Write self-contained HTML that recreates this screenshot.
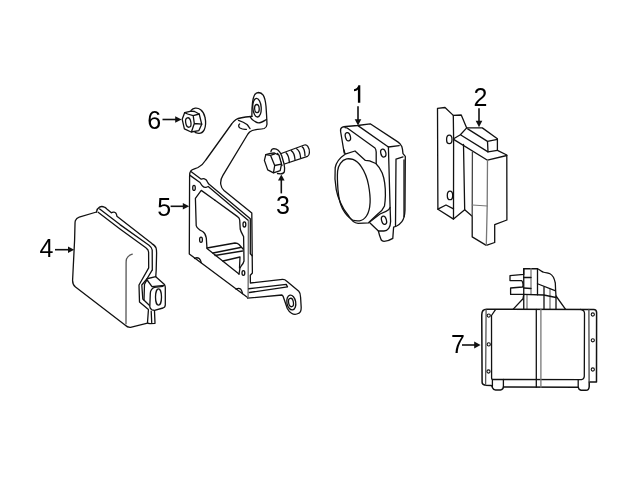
<!DOCTYPE html>
<html><head><meta charset="utf-8">
<style>
html,body{margin:0;padding:0;background:#fff;width:640px;height:480px;overflow:hidden}
svg{display:block;will-change:transform}
text{font-family:"Liberation Sans",sans-serif;font-size:25px;fill:#000}
</style></head><body>
<svg width="640" height="480" viewBox="0 0 640 480">
<g fill="none" stroke="#111" stroke-width="1.3" stroke-linejoin="round" stroke-linecap="round">
<!-- labels arrows -->
<g stroke-width="1.6" stroke-linecap="butt">
<path d="M162.5 119.5H176"/>
<path d="M170.6 206.3H183.5"/>
<path d="M55 249.7H68.5"/>
<path d="M281.3 193.4V180"/>
<path d="M358 106.2V120"/>
<path d="M479 108.3V121.5"/>
<path d="M462 345H475"/>
</g>
<g fill="#111" stroke="none">
<path d="M181.6 119.5L175.2 116.2V122.8Z"/>
<path d="M189.2 206.3L182.8 203V209.6Z"/>
<path d="M74.2 249.7L68 246.4V253Z"/>
<path d="M281.3 174.4L278 180.6H284.6Z"/>
<path d="M358 125.5L354.7 119.2H361.3Z"/>
<path d="M479 127.2L475.7 120.8H482.3Z"/>
<path d="M480.6 345L474.2 341.6V348.4Z"/>
</g>

<!-- part 5 bracket -->
<g id="p5">
<path d="M251.9,116.4 C247,116.8 240,117.2 236,119.5 C234,121 233,122 232,123.5 L205.8,160 C204,163 202,165.5 198,167.5 C195,168.8 192,169.3 190.8,170.8 C189.8,172 189.6,174 189.6,176 L189.3,254 L247.6,297.5"/>
<path d="M251.9,116.4 C251.8,107 252,99.5 254.5,95 C255.8,93 257,92.5 258.5,92.5 C260.5,92.6 262,93.5 263.2,95.2 C264.6,97.5 265.5,101 266,106.3 L266.6,115.5 L267,124.2 C266.8,126.5 265.8,127.8 264.2,128.5 C262,129.2 259.5,129.3 256,129.6 C253,130 251,130.8 249.6,132 L247.9,134 L222.9,175.4 C221,178.5 220.4,182 220.8,184.5 C221.2,187 222,188.8 224,190.5 L251.8,213 L252.2,255.6 L252.4,273 L250.3,275.2 L250.4,283 L282.5,279.4 C284,279.3 285.5,280 286.5,281 L298.8,291.3 C300,292.5 300.6,295 300.6,297.5 L301.2,307.5 C301.2,310 300.5,312.5 298.7,313.3 C296.5,314.5 293.5,314.5 291.5,313.2 C289.5,312 288.3,310.5 287.3,308.5 L283.1,296.3 L281.9,295 L247.6,298.2"/>
<ellipse cx="257" cy="107.7" rx="4.2" ry="9.3" transform="rotate(-4 257 107.7)"/>
<ellipse cx="256.9" cy="108.6" rx="2.3" ry="4.1" transform="rotate(-4 256.9 108.6)"/>
<path d="M250.5,117.4 C251.5,119 252.5,120.3 254.2,121 C255.8,122 257.2,122.9 258.8,122.9 C261,122.9 263,121.5 266.5,119.5"/>
<path d="M238.5,120.4 C242,121.5 245,123 247,124.5 C248.5,126 249,127.5 250,128.5"/>
<path d="M239.6,124 C238.3,125 238.3,126.8 240,128 C242,129.2 244.5,129.5 246.4,129.3"/>
<!-- plate rim lines -->
<path d="M191.25,171.7 L201.25,179.2 C202.5,178.5 203.5,178.5 204.5,178.8 C206,179.3 207,180.5 207.5,182 C208,183.3 208.8,184.3 210,185 L250.3,218.8 L250.3,253.8 L252.2,255.8"/>
<path d="M190,175.4 L200,182.5 C201,184 201.5,185.2 202.5,186 C203.5,187 205,187.5 206,187.3 C207,187.1 207.6,186.8 208.2,186.5 L248.4,220.5"/>
<path d="M248.4,220.5 L248.1,298" stroke="#666"/>
<path d="M215,200.2 L237.5,216.6 C239,217.5 239.6,218.5 239.7,220 L240.2,229 C240.8,232 242.5,234.5 243.6,236.5 L244,261 C243.5,263 242.5,264.5 241.5,265.5 L240,268 L239,274"/>
<path d="M201.25,190.4 L215,200.2 M201.25,190.4 L195.4,198.3 L196.2,225.6 C197,228.5 199.5,230 202.7,231.5 C205,233 206,236 206.3,238 L207,248.5 L239,274"/>
<!-- inner beams -->
<path d="M207,248 L235,243 C236.5,243 238,243.5 239,244.5 L243,249"/>
<path d="M213,253 L240.5,247.5"/>
<path d="M215,255.5 L242.5,251"/>
<path d="M223,261 L240,257 L239.5,268"/>
<!-- corner marks -->
<path d="M194.5,258.5 C196,257.6 198,257.6 199.2,258.6 C200.2,259.5 200.8,260.8 201.2,262.5"/>
<path d="M236,289.1 C237.5,288.3 239.5,288.1 240.6,289 C241.6,290 242.1,291.5 242.5,293.5"/>
<!-- foot inner -->
<path d="M248.75,288.75 L286.25,284.4 L287.5,286.9 L249.4,292.5"/>
<ellipse cx="291.3" cy="302.5" rx="4.4" ry="7.5" transform="rotate(-10 291.3 302.5)"/>
<ellipse cx="291" cy="302.5" rx="2.4" ry="4.3" transform="rotate(-10 291 302.5)"/>
<!-- holes -->
<ellipse cx="194" cy="187.9" rx="1.3" ry="2.5"/>
<ellipse cx="244.4" cy="224.4" rx="1.4" ry="2.6"/>
<ellipse cx="201" cy="239.8" rx="1.4" ry="2.6"/>
<ellipse cx="243.4" cy="273" rx="1.4" ry="2.3"/>
</g>


<!-- part 3 bolt -->
<g id="p3">
<path d="M281.2,153.5 L304.4,145 C306,144.5 307,145.2 307.8,146.3 C309,148 309.6,150.5 309.4,152.8 C309.2,154.8 308.5,156 307.5,156.3 L284.5,164" fill="#fff"/>
<path d="M286,152.8 C288,154.5 289,157.5 289.4,162.5"/>
<path d="M291.25,150.6 C293.3,152 294.6,155 295,159.6"/>
<path d="M296.6,148.75 C298.7,150 300.2,153 300.6,157.6"/>
<path d="M302.2,146.9 C303.8,148 304.8,151 305,155.6"/>
<path d="M270.9,151.5 C271.5,149.5 272.8,148.7 273.9,148.7 C275.5,148.8 277,149.3 278.2,150.3 C279.8,151.7 281,153.8 281.8,156 L284,163.8 C284.6,166.5 284.8,169.5 284.4,171.5 C283.9,173.2 282,174 279.5,173.8 L268,168 L266,155 Z" fill="#fff" stroke="none"/>
<path d="M270.9,151.5 C271.5,149.5 272.8,148.7 273.9,148.7 C275.5,148.8 277,149.3 278.2,150.3 C279.8,151.7 281,153.8 281.8,156 L284,163.8 C284.6,166.5 284.8,169.5 284.4,171.5 C284.1,172.8 282.8,173.8 280.5,173.9 L277.5,173.5"/>
<path d="M277.6,153.3 L282,165.5"/>
<path d="M265.8,154.6 L270.2,153.3 L274.4,153 L279,155.2 L281.5,164.1 L280.2,170.7 L273.5,172.8 L267.7,169.9 L264.4,160.4 Z" fill="#fff"/>
<path d="M265.8,154.6 L270.5,155.3 L274.8,153.8 M270.5,155.3 L274.7,165.5 L273.5,172.6 M274.7,165.5 L281.3,164.2"/>
</g>
<!-- part 4 ECU -->
<g id="p4">
<path d="M96.5,212 L79.2,217.1 C77.5,217.6 76,219 75.3,220.8 C75,222 75,223 75,224 L74.6,240 L72.6,280 C72.5,283 73.5,285.3 75.5,287 L125,325 C126.5,326.5 128,327.5 130.5,327.3 L147.5,323.2"/>
<path d="M96.5,212 C96.8,210 97.8,208 99.5,207.1 C101,206.3 103,206.4 104.5,207.2 C105.5,207.7 106.2,208.3 106.8,208.9 L111.4,212.8 C112,212.2 113,212 114,212.1 C115.5,212.3 116.6,213.8 116.9,216.2 L151.9,243.6 C154,245 155.8,246.6 156.1,248.1 C156.5,249.5 156.6,251 156.6,253 L156.2,270 L155.75,276.7 L164.5,284.6 C165,285.5 165.3,286.5 165.3,287.8 L165.3,304.7 C165.3,306.5 164.5,307.5 163,308 L154.5,310.3"/>
<path d="M99.7,208.9 L120,224.6 L149,245.3 C150.5,246.5 152,248 152.2,250 L152.3,270"/>
<path d="M98.1,212.3 L120,228.9 L146.2,248.1 C147.5,249 148.5,250.5 148.6,252 L148.7,267.9 L139,285 L139.5,301.9 L148.4,309.4"/>
<path d="M132.3,254.2 C129.5,255 127.5,256.5 126.5,259 C126.1,260.5 126.1,261.5 126.1,263 L126,323.8" stroke="#555"/>
<path d="M152,270.4 L147,278.75 L141.8,285 L142.8,299 L149.3,305.2"/>
<path d="M147,278.75 L155.75,276.7"/>
<path d="M147,279.6 L144.5,284.2 L144,300"/>
<path d="M147.5,280.5 L152,286.7 L164,285.4"/>
<path d="M163,286.4 L154.5,287.3 C153,287.8 152,288.7 151.5,289.7 C150.5,291 150.3,292.5 150.3,293.5 L149.8,306.6 C149.9,308 150.5,309 152,309.8 L154.5,310.3" fill="#fff"/>
<ellipse cx="158.5" cy="297" rx="3" ry="8.2"/>
<path d="M148.4,310.3 L147.5,322.5 C147.8,323.4 149,323.6 150,323.6 L155,323.4 L154.5,311.2"/>
<path d="M151.2,311.2 L151.7,322.5"/>
</g>


<!-- part 1 MAF -->
<g id="p1">
<path d="M344.2,153 L340.6,131.5 C340.3,129.5 341,127.8 342.5,127.2 C343.5,126.8 345,126.6 346,126.5 L357.5,125.5 L370.2,123.8 L397.8,141.9 C399.5,143 401,144.5 401.8,146.5 C402.6,148.5 402.8,151 403,153.6 L405.3,156.4 L405,210 C404.8,216 403.5,219.5 401.9,221.6 C400,224 398,225.5 396.25,226.25 L393.6,227.2 L392.8,238.4 C390,240.2 386.5,241.3 384,241.3 C382.5,241.2 381.7,240.6 381.25,240 L379.6,235.6 L378.4,231 L370,223"/>
<path d="M345,127.6 C346.5,127.6 347.8,128 348.6,129 L375,148 C375.7,149 376,150 376.2,152 L376.2,163.5"/>
<path d="M358.3,125.9 L388.4,147 L399.2,145.6"/>
<path d="M388.4,147 L390.1,207.5 L390.6,221.6 C390.5,225 389.6,227.3 388.75,228.3 C387.5,230 386,231 384,231 L378.4,231"/>
<path d="M390.1,207.5 C389.5,209.5 388,210.5 386,211.3 L380,214 L369,222.5"/>
<path d="M396,159.2 L403,156.9 M396,159.2 L395.5,225.6"/>
<path d="M404,160 L404,216.7"/>
<ellipse cx="347.9" cy="136.75" rx="2.5" ry="4.2" transform="rotate(-15 347.9 136.75)"/>
<ellipse cx="383.3" cy="153.1" rx="2.5" ry="4" transform="rotate(-15 383.3 153.1)"/>
<ellipse cx="384" cy="220.2" rx="2.4" ry="4.2" transform="rotate(-15 384 220.2)"/>
<!-- cylinder -->
<path d="M344,150 L345.1,154.2 L355,151 L365.4,160.4 L369.6,160.9 L375.8,163.5 C378.5,166 380.5,169 382.2,173 C384.5,179 385.5,188 385.4,195.4 C385.3,200 384.8,204 384.5,206 C383,209.5 380.5,212 378.3,213.5 L368.5,222.8 L358.1,223.3 C354,223 351,220 348.75,216 C345,211.5 342,206.5 340.4,202.5 C338.2,197.5 336.8,193 336.25,189.6 C335,183 334.5,176 335.2,167.7 C336,162.5 339.5,158 345.1,154.2" fill="#fff"/>
<path d="M346.7,158.9 C349,158.6 351,158.8 352.9,159.4 C356,160.6 359,163 361.25,166.7 C364.5,171.5 367,177 368.5,185 C369.8,192 370.3,198 370.1,202.5 C369.8,208.5 368.5,213 366.5,216 C364.5,219 362,220.5 359.5,220.8 C356.5,221 354,220.6 352.5,220 C348.5,217.5 345,213.5 342.5,208.75 C340.5,205 338.7,198 338,190 C337.5,184 337.2,176 337.6,171 C338.2,165.5 341.5,160 346.7,158.9"/>
</g>


<!-- part 2 -->
<g id="p2">
<path d="M437.9,209.2 L437.5,108.3 L445,107.5 L453.3,115.4 L461.25,115 L466.7,127.9 L482.3,127.9 L497.4,138.8 L497.4,150.3 L506.8,155 L506.9,220 L494.7,224.7 L494.7,242.5 L486.3,245.4 L472.2,236.9 L472.2,216.3 L464.7,209.7 L453.5,219.1 Z"/>
<path d="M453.3,115.4 L453.6,138.8 L453.5,219.1"/>
<path d="M466.7,127.9 L460.4,134.7 L453.6,138.8 M460.4,134.7 L488,151.9 L497.4,150.3"/>
<path d="M467.7,128.9 L487.5,141.4 L497.4,139.4 M487.5,141.4 L488,151.9"/>
<path d="M453.6,139.4 L487.5,160.2 L506.8,155.5"/>
<path d="M487.5,160.2 L487.2,206 L486.3,245.4" stroke="#777"/>
<path d="M463.5,144.5 L464.7,209.7"/>
<path d="M472.4,151.9 L472.2,216.3" stroke="#444"/>
<path d="M437.9,209.2 L446,205 L453.5,208.8"/>
<path d="M472.2,205 L487.2,206" stroke="#777" stroke-width="1"/>
<ellipse cx="449.3" cy="139.4" rx="2.7" ry="4.2"/>
<ellipse cx="450" cy="195.4" rx="2.7" ry="4.3"/>
</g>


<!-- part 7 -->
<g id="p7">
<!-- connector -->
<path d="M513,309.4 L523,298.75 L523.75,294.4 L510.6,294.4 L510.6,288 L522.5,287 C523.3,286 523.3,283 522,281 L521.9,280.6 L510,280.6 L510,275.6 L523.75,274.4 L523.75,268.75 L537.5,268.75 C539.5,269.5 541,271.5 543,272 C546,273 548.5,273 550,273.75 C552.5,275 554.5,279 555.3,283 L555.6,290 L556,296 L565.6,309.4"/>
<path d="M523.75,268.75 L523.75,309.4 M537.5,268.75 L537.5,294.8 M544,287 L544,309.4 M556,296 L556,309.4"/>
<path d="M531,268.75 L531,294.6 M527,295 L527,309.4 M550,289 L550,309.4" stroke="#777"/>
<path d="M523.75,294.4 L543.75,295 L556,297.5 M537.5,283.75 L555,290.6 M523.75,277.5 L531,277.5 M523.75,288 L531,288.5"/>
<!-- frame -->
<path d="M481.75,315 C481.75,311.5 483.5,309.3 486.5,309.3 L593.75,309.4 C595.5,309.4 596.6,310.5 596.6,312.5 L596.5,382 L589.2,382 L589.2,386.7 C589,389 588,390.3 586,390.3 L581,390.3 C579.8,390 578.5,389 578.2,387.2 L503.4,387 C503.2,389 502,389.8 500.5,389.9 L495.5,390 C494,390 493,389 492.5,387.8 C492.2,386.5 492,385.5 491.2,385.4 L485.5,385.2 C483.5,385 482.1,384 482.1,382.2 Z" fill="#fff" stroke-width="1.5"/>
<path d="M486.1,310 L485.6,385" stroke="#555"/>
<path d="M491.5,315.5 L491.6,378.4 C491.6,379.2 492.3,379.5 493.3,379.5 L581.5,379.6 C583,379.4 584.2,378.2 584.3,376.2 L584.5,313.5 C584.6,311.5 583.3,310 580.6,309.4 M491.5,315.5 L495.5,309.6"/>
<path d="M588.9,309.4 L589.1,382" stroke="#444"/>
<path d="M503.4,379.5 L503.4,387 M578.2,379.9 L578.2,387.2 M492.4,379.5 L492.4,386.5"/>
<path d="M536.3,309.4 L536.3,387.2"/>
<path d="M540.9,309.4 L540.9,387.2" stroke="#777"/>
<circle cx="488.75" cy="315.6" r="1.6" stroke-width="1.1"/>
<circle cx="488.75" cy="344.4" r="1.6" stroke-width="1.1"/>
<circle cx="488.5" cy="371.5" r="1.6" stroke-width="1.1"/>
<circle cx="592.8" cy="314.5" r="1.6" stroke-width="1.1"/>
<circle cx="592.8" cy="340.3" r="1.6" stroke-width="1.1"/>
<circle cx="592.8" cy="369.5" r="1.6" stroke-width="1.1"/>
</g>

<!-- part 6 nut -->
<g id="p6">
<path d="M191.1 110.4C193 108 197 107 200.7 109.7C203 111.5 204.5 114.5 205 117.5C206 122 206 126 204.2 129.9C202.5 133 199 134 195.7 132.7L194.3 131.3"/>
<path d="M184.7 112.6L191.1 111.1L194.6 111.5L199.2 114L201.7 124.2L198.9 130.6L191.1 132L184.4 128.8L182.2 119.3Z" fill="#fff"/>
<path d="M184.7 112.6L187.6 114L193.2 115.7L199.2 114M193.2 115.7L194.3 123.5L191.5 131.7M194.3 123.5L201.7 124.2"/>
<ellipse cx="188.3" cy="122.5" rx="2.6" ry="4.8" transform="rotate(-10 188.3 122.5)"/>
</g>
</g>
<g text-anchor="middle">
<text x="154.1" y="128.5">6</text>
<text x="164.25" y="215.5">5</text>
<text x="282.9" y="213.75">3</text>
<text x="46.5" y="257.25">4</text>
<text x="480.5" y="105.5">2</text>
<text x="457.9" y="352.75">7</text>
</g>
<path d="M360.3,85.3 L360.3,102.7 L357.9,102.7 L357.9,89.6 C357,90.8 355.6,91.3 354,91.3 L354,89.3 C356.3,89.1 357.8,87.6 358.3,85.3 Z" fill="#000"/>
</svg>
</body></html>
